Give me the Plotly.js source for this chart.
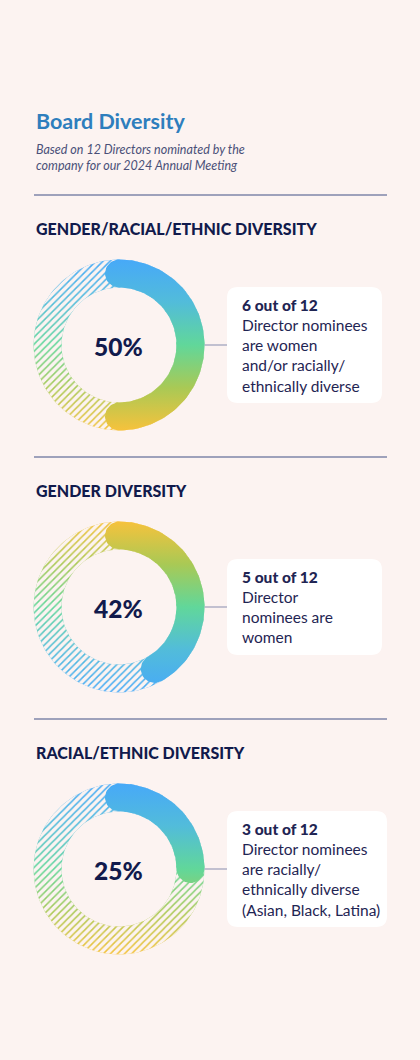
<!DOCTYPE html>
<html>
<head>
<meta charset="utf-8">
<script src="https://cdn.plot.ly/plotly-3.0.1.min.js"></script>
<style>
  html, body { margin: 0; padding: 0; background: #FCF3F1; }
  #chart { width: 420px; height: 1060px; }
</style>
</head>
<body>
<div id="chart"></div>
<script>
const sectionTitles = ['GENDER/RACIAL/ETHNIC DIVERSITY', 'GENDER DIVERSITY', 'RACIAL/ETHNIC DIVERSITY'];
const nominees = [6, 5, 3];
const totalDirectors = 12;
const calloutLines = [
  ['Director nominees', 'are women', 'and/or racially/', 'ethnically diverse'],
  ['Director', 'nominees are', 'women'],
  ['Director nominees', 'are racially/', 'ethnically diverse', '(Asian, Black, Latina)']
];

// Styling
const BG = '#FCF3F1';
const NAVY = '#111A4C';
const TEXT = '#1F2553';
const RULE = '#7F86A8';
const FONT = 'Lato, "Open Sans", sans-serif';
const gradTopBlue = [[0, '#47A9F8'], [0.25, '#52BCDA'], [0.5, '#61D79A'], [0.75, '#A9C955'], [1, '#F6C23C']];
const gradTopYellow = gradTopBlue.map(([s, c]) => [1 - s, c]).reverse();
const ringGradients = [gradTopBlue, gradTopYellow, gradTopBlue];
const boxWidths = [155, 155, 160];

const CX = 119, R_OUT = 85.5, R_IN = 57.5;
const R_MID = (R_OUT + R_IN) / 2, HALF = (R_OUT - R_IN) / 2;
const firstTop = 195, step = 262;

function pt(cx, cy, r, th) {
  return [cx + r * Math.sin(th), cy - r * Math.cos(th)];
}

// full annulus (keyhole polygon, slit hidden under the arc start)
function ring(cx, cy) {
  const xs = [], ys = [];
  for (let i = 0; i <= 180; i++) {
    const p = pt(cx, cy, R_OUT, i / 180 * 2 * Math.PI);
    xs.push(p[0]); ys.push(p[1]);
  }
  for (let i = 180; i >= 0; i--) {
    const p = pt(cx, cy, R_IN, i / 180 * 2 * Math.PI);
    xs.push(p[0]); ys.push(p[1]);
  }
  return {x: xs, y: ys};
}

// arc from top clockwise with round caps
function arc(cx, cy, frac) {
  const xs = [], ys = [];
  const end = frac * 2 * Math.PI, n = Math.max(8, Math.round(frac * 180));
  for (let i = 0; i <= n; i++) {
    const p = pt(cx, cy, R_OUT, end * i / n);
    xs.push(p[0]); ys.push(p[1]);
  }
  // end cap
  let c = pt(cx, cy, R_MID, end);
  let d = [Math.sin(end), -Math.cos(end)], t = [Math.cos(end), Math.sin(end)];
  for (let i = 1; i < 24; i++) {
    const f = Math.PI * i / 24;
    xs.push(c[0] + HALF * (Math.cos(f) * d[0] + Math.sin(f) * t[0]));
    ys.push(c[1] + HALF * (Math.cos(f) * d[1] + Math.sin(f) * t[1]));
  }
  for (let i = n; i >= 0; i--) {
    const p = pt(cx, cy, R_IN, end * i / n);
    xs.push(p[0]); ys.push(p[1]);
  }
  // start cap
  c = pt(cx, cy, R_MID, 0);
  d = [0, -1]; t = [1, 0];
  for (let i = 1; i < 24; i++) {
    const f = Math.PI * i / 24;
    xs.push(c[0] - HALF * (Math.cos(f) * d[0] + Math.sin(f) * t[0]));
    ys.push(c[1] - HALF * (Math.cos(f) * d[1] + Math.sin(f) * t[1]));
  }
  return {x: xs, y: ys};
}

function roundRect(x0, y0, x1, y1, r) {
  return `M${x0 + r},${y0} L${x1 - r},${y0} Q${x1},${y0} ${x1},${y0 + r} L${x1},${y1 - r} Q${x1},${y1} ${x1 - r},${y1} ` +
    `L${x0 + r},${y1} Q${x0},${y1} ${x0},${y1 - r} L${x0},${y0 + r} Q${x0},${y0} ${x0 + r},${y0} Z`;
}

const traces = [];
const shapes = [];
const annotations = [
  {x: 34, y: 121, text: 'Board Diversity', font: {family: FONT, size: 21.5, weight: 700, color: '#2E7EBD'}},
  {x: 34, y: 157, text: '<i>Based on 12 Directors nominated by the<br>company for our 2024 Annual Meeting</i>',
   font: {family: FONT, size: 12.5, color: '#4A5078'}}
].map(a => Object.assign({xref: 'x', yref: 'y', xanchor: 'left', yanchor: 'middle', showarrow: false, align: 'left'}, a));

sectionTitles.forEach((title, k) => {
  const top = firstTop + k * step;
  const cy = top + 150;
  const frac = nominees[k] / totalDirectors;
  const grad = {type: 'vertical', colorscale: ringGradients[k], start: cy - R_OUT, stop: cy + R_OUT};

  const rg = ring(CX, cy);
  traces.push({x: rg.x, y: rg.y, mode: 'lines', fill: 'toself', line: {width: 0},
    fillgradient: grad, hoverinfo: 'skip'});
  traces.push({x: rg.x, y: rg.y, mode: 'lines', fill: 'toself', line: {width: 0}, fillcolor: 'rgba(0,0,0,0)',
    fillpattern: {shape: '/', fgcolor: BG, bgcolor: 'rgba(0,0,0,0)', size: 5, solidity: 0.7}, hoverinfo: 'skip'});
  const ac = arc(CX, cy, frac);
  traces.push({x: ac.x, y: ac.y, mode: 'lines', fill: 'toself', line: {width: 0},
    fillgradient: grad, hoverinfo: 'skip'});

  // rule above the section
  shapes.push({type: 'line', xref: 'x', yref: 'y', x0: 34, x1: 387, y0: top, y1: top, line: {color: RULE, width: 1.3}});
  // connector + callout box
  shapes.push({type: 'line', xref: 'x', yref: 'y', x0: CX + R_OUT, x1: 227, y0: cy, y1: cy, line: {color: '#9A9EBB', width: 1.2}});
  const nLines = calloutLines[k].length + 1;
  const h = nLines * 20 + 16;
  shapes.push({type: 'path', xref: 'x', yref: 'y', path: roundRect(227, cy - h / 2, 227 + boxWidths[k], cy + h / 2, 11),
    fillcolor: '#FFFFFF', line: {width: 0}, layer: 'below'});

  annotations.push({xref: 'x', yref: 'y', x: 34, y: top + 33, text: title, showarrow: false,
    xanchor: 'left', yanchor: 'middle', font: {family: FONT, size: 16, weight: 900, color: NAVY}});
  annotations.push({xref: 'x', yref: 'y', x: CX - 1, y: cy + 1, text: Math.round(frac * 100) + '%', showarrow: false,
    xanchor: 'center', yanchor: 'middle', font: {family: FONT, size: 24.5, weight: 900, color: NAVY}});
  annotations.push({xref: 'x', yref: 'y', x: 240, y: cy, align: 'left', showarrow: false, xanchor: 'left', yanchor: 'middle',
    text: '<span style="font-weight:900">' + nominees[k] + ' out of ' + totalDirectors + '</span><br>' + calloutLines[k].join('<br>'),
    font: {family: FONT, size: 15.5, color: TEXT}});
});

const layout = {
  width: 420, height: 1060,
  margin: {l: 0, r: 0, t: 0, b: 0},
  paper_bgcolor: BG, plot_bgcolor: BG,
  showlegend: false,
  xaxis: {range: [0, 420], visible: false, fixedrange: true},
  yaxis: {range: [1060, 0], visible: false, fixedrange: true},
  shapes: shapes,
  annotations: annotations
};

Plotly.newPlot('chart', traces, layout, {displayModeBar: false, staticPlot: true});
</script>
</body>
</html>
